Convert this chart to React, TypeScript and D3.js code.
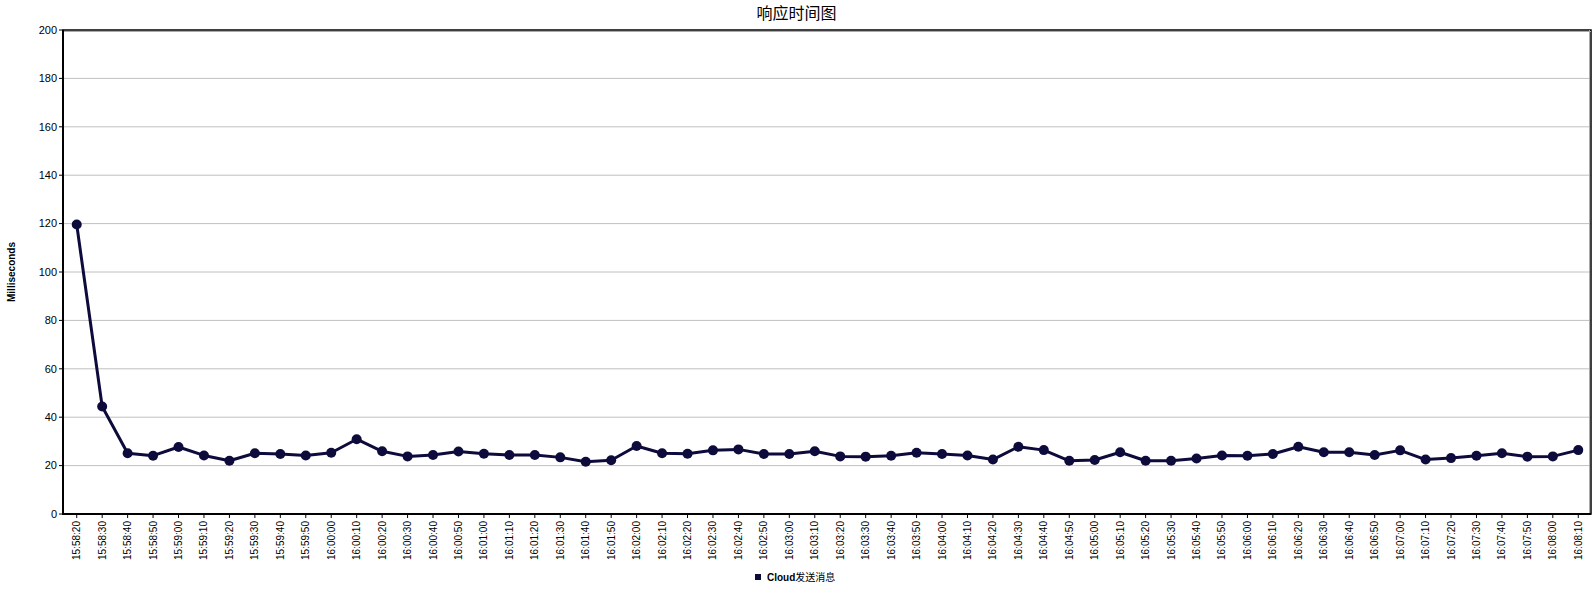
import React from "react";
import * as d3 from "d3";

const categories: string[] = [
  "15:58:20","15:58:30","15:58:40","15:58:50","15:59:00","15:59:10","15:59:20","15:59:30","15:59:40","15:59:50",
  "16:00:00","16:00:10","16:00:20","16:00:30","16:00:40","16:00:50","16:01:00","16:01:10","16:01:20","16:01:30",
  "16:01:40","16:01:50","16:02:00","16:02:10","16:02:20","16:02:30","16:02:40","16:02:50","16:03:00","16:03:10",
  "16:03:20","16:03:30","16:03:40","16:03:50","16:04:00","16:04:10","16:04:20","16:04:30","16:04:40","16:04:50",
  "16:05:00","16:05:10","16:05:20","16:05:30","16:05:40","16:05:50","16:06:00","16:06:10","16:06:20","16:06:30",
  "16:06:40","16:06:50","16:07:00","16:07:10","16:07:20","16:07:30","16:07:40","16:07:50","16:08:00","16:08:10",
];

const cloudValues: number[] = [
  119.6, 44.4, 25.1, 24.1, 27.7, 24.2, 22.0, 25.1, 24.8, 24.2,
  25.3, 30.9, 25.9, 23.8, 24.4, 25.8, 24.9, 24.4, 24.4, 23.4,
  21.6, 22.2, 28.1, 25.1, 24.9, 26.3, 26.7, 24.8, 24.8, 25.9,
  23.8, 23.7, 24.1, 25.3, 24.8, 24.2, 22.5, 27.8, 26.4, 22.0,
  22.3, 25.5, 22.0, 22.0, 22.9, 24.2, 24.1, 24.8, 27.8, 25.5,
  25.5, 24.4, 26.3, 22.5, 23.1, 24.1, 25.1, 23.7, 23.8, 26.4,
];

const yTicks: number[] = [0, 20, 40, 60, 80, 100, 120, 140, 160, 180, 200];

const titleText = "响应时间图";
const yAxisLabel = "Milliseconds";
const seriesName = "Cloud发送消息";

const W = 1593;
const H = 592;
const plotLeft = 63;
const plotRight = 1591;
const plotTop = 30;
const plotBottom = 514;
const lineColor = "#0d0b3b";
const font = "'Liberation Sans', Arial, sans-serif";
const cjkFont = "'Noto Sans CJK SC', sans-serif";

export default function App() {
  const x = d3
    .scaleBand<string>()
    .domain(categories)
    .range([plotLeft + 1, plotRight])
    .paddingOuter(0.0);
  const xc = (c: string) => (x(c) as number) + x.bandwidth() / 2;
  const y = d3.scaleLinear().domain([0, 200]).range([plotBottom, plotTop]);

  const line = d3
    .line<number>()
    .x((_, i) => xc(categories[i]))
    .y((d) => y(d));

  return (
    <svg
      width={W}
      height={H}
      style={{ position: "absolute", left: 0, top: 0, background: "#fff" }}
    >
      <text
        x={W / 2}
        y={19}
        textAnchor="middle"
        fontFamily={cjkFont}
        fontSize={16}
        fill="#000"
      >
        {titleText}
      </text>

      {/* grid */}
      {yTicks.slice(1, -1).map((t) => (
        <line
          key={"g" + t}
          x1={plotLeft}
          x2={plotRight}
          y1={y(t)}
          y2={y(t)}
          stroke="#c0c0c0"
          strokeWidth={1}
        />
      ))}

      {/* frame */}
      <rect
        x={plotLeft}
        y={plotTop}
        width={plotRight - plotLeft}
        height={plotBottom - plotTop}
        fill="none"
        stroke="#000"
        strokeWidth={1.5}
      />
      <line x1={plotLeft} x2={plotRight} y1={plotTop + 1.5} y2={plotTop + 1.5} stroke="#aaa" strokeWidth={1} />
      <line x1={plotRight - 1.5} x2={plotRight - 1.5} y1={plotTop} y2={plotBottom} stroke="#aaa" strokeWidth={1} />
      <line x1={plotLeft} x2={plotLeft} y1={plotTop} y2={plotBottom + 1} stroke="#000" strokeWidth={2} />
      <line x1={plotLeft} x2={plotRight} y1={plotBottom} y2={plotBottom} stroke="#000" strokeWidth={2} />

      {/* y axis ticks */}
      {yTicks.map((t) => (
        <g key={"y" + t}>
          <line x1={plotLeft - 4} x2={plotLeft} y1={y(t)} y2={y(t)} stroke="#000" strokeWidth={1} />
          <text
            x={plotLeft - 6}
            y={y(t)}
            dy="0.35em"
            textAnchor="end"
            fontFamily={font}
            fontSize={11}
            fill="#000"
          >
            {t}
          </text>
        </g>
      ))}

      <text
        transform={`translate(15,${(plotTop + plotBottom) / 2}) rotate(-90)`}
        textAnchor="middle"
        fontFamily={font}
        fontSize={10}
        fontWeight="bold"
        fill="#000"
      >
        {yAxisLabel}
      </text>

      {/* x axis ticks */}
      {categories.map((c) => (
        <g key={"x" + c}>
          <line x1={xc(c)} x2={xc(c)} y1={plotBottom} y2={plotBottom + 4} stroke="#000" strokeWidth={1} />
          <text
            transform={`translate(${xc(c) + 3.5},${plotBottom + 7}) rotate(-90)`}
            textAnchor="end"
            fontFamily={font}
            fontSize={10}
            fill="#000"
          >
            {c}
          </text>
        </g>
      ))}

      {/* series */}
      <path
        d={line(cloudValues) || ""}
        fill="none"
        stroke={lineColor}
        strokeWidth={3}
        strokeLinejoin="round"
      />
      {cloudValues.map((v, i) => (
        <circle key={"p" + i} cx={xc(categories[i])} cy={y(v)} r={5} fill={lineColor} />
      ))}

      {/* legend */}
      <rect x={755} y={574} width={6} height={6} fill={lineColor} />
      <text x={767} y={581} fontFamily={font} fontSize={10} fontWeight="bold" fill="#000">
        Cloud
        <tspan fontFamily={cjkFont} fontWeight="normal">发送消息</tspan>
      </text>
    </svg>
  );
}
